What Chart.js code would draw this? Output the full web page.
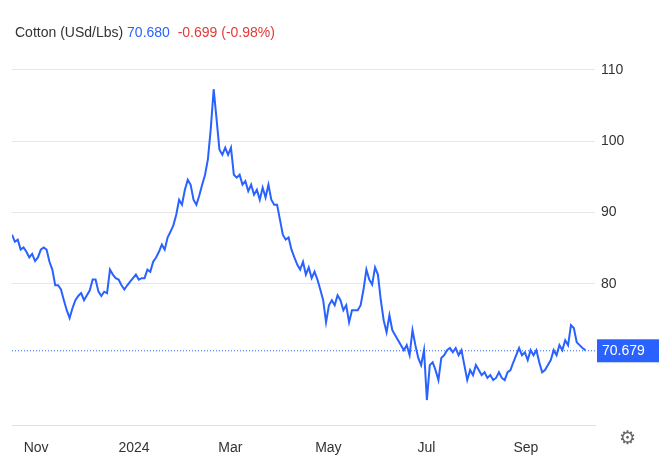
<!DOCTYPE html>
<html><head><meta charset="utf-8">
<script src="https://cdn.jsdelivr.net/npm/chart.js@4"></script>
<style>
body{margin:0;background:#fff;font-family:"Liberation Sans",Arial,sans-serif;}
#t{position:absolute;left:15px;top:24px;font-size:14px;color:#333;}
#wrap{position:absolute;left:0;top:0;width:660px;height:457px;}
#gear{position:absolute;left:619px;top:426px;font-size:19px;color:#666;}
</style></head><body>
<div id="wrap"><canvas id="c" width="660" height="457"></canvas></div>
<div id="t">Cotton (USd/Lbs) <span style="color:#2962ff">70.680</span> <span style="color:#e53935">&nbsp;-0.699 (-0.98%)</span></div>
<div id="gear">⚙</div>
<script>
const startDate = "2023-10-17";
const endDate = "2024-10-08";
const lastPrice = 70.679;
const values = [86.9,85.9,86.2,84.8,85.1,84.5,83.7,84.2,83.2,83.7,84.8,85.1,84.8,83.1,82.0,79.8,79.8,79.2,77.7,76.3,75.2,76.6,77.7,78.3,78.7,77.7,78.4,79.1,80.6,80.6,78.9,78.3,78.9,78.7,82.0,81.3,80.8,80.6,79.8,79.2,79.8,80.3,80.8,81.3,80.6,80.8,80.8,82.0,81.7,83.1,83.7,84.5,85.5,84.8,86.5,87.3,88.2,89.7,91.8,91.1,93.2,94.6,93.9,91.8,91.1,92.4,93.9,95.3,97.5,101.8,107.3,103.1,98.8,98.1,99.1,98.1,99.1,95.3,94.9,95.3,93.9,94.4,93.0,93.9,92.5,93.2,91.8,93.5,92.1,93.9,91.8,91.1,91.1,89.0,86.9,86.2,86.5,84.8,83.7,82.7,82.0,83.1,81.3,82.3,80.8,81.7,80.6,79.2,77.7,74.6,77.0,77.7,77.0,78.4,77.7,76.3,77.0,74.6,76.3,76.3,76.3,77.0,79.2,82.0,80.6,79.9,82.3,81.3,77.7,74.9,73.2,75.6,73.5,72.8,72.1,71.4,70.7,71.4,70.0,73.5,71.4,69.6,68.6,70.7,63.7,68.6,69.0,67.9,66.5,69.6,70.0,70.7,71.0,70.4,71.0,70.0,70.7,68.6,66.5,67.9,67.2,68.6,67.9,67.2,67.6,66.8,67.2,66.5,66.8,67.6,66.8,66.5,67.6,67.9,69.0,70.0,71.0,70.0,70.4,69.3,70.7,70.0,70.7,69.0,67.6,67.9,68.6,69.3,70.7,70.0,71.4,70.7,72.1,71.4,74.2,73.8,71.8,71.4,71.0,70.7];
const tickDates = ["2023-11-01","2024-01-01","2024-03-01","2024-05-01","2024-07-01","2024-09-01"];
const tickLabels = ["Nov","2024","Mar","May","Jul","Sep"];
const yTicks = [80,90,100,110];

const t0 = Date.parse(startDate), t1 = Date.parse(endDate);
const pts = values.map((v,i)=>({x: t0 + (t1-t0)*i/(values.length-1), y: v}));
const tickTs = tickDates.map(d=>Date.parse(d));

const priceTag = {
  id:'priceTag',
  afterDatasetsDraw(ch){
    const {ctx, chartArea:a, scales:{y}} = ch;
    const py = y.getPixelForValue(lastPrice);
    ctx.save();
    ctx.strokeStyle='#2962ff'; ctx.lineWidth=1; ctx.setLineDash([1,2]);
    ctx.beginPath(); ctx.moveTo(a.left,py+0.5); ctx.lineTo(a.right,py+0.5); ctx.stroke();
    ctx.setLineDash([]);
    ctx.fillStyle='#2962ff'; ctx.fillRect(a.right+2,py-11,62,23);
    ctx.fillStyle='#fff'; ctx.font='14px "Liberation Sans", Arial'; ctx.textBaseline='middle';
    ctx.fillText(lastPrice.toFixed(3), a.right+7, py+1);
    ctx.restore();
  }
};

new Chart(document.getElementById('c'),{
  type:'line',
  data:{datasets:[{data:pts,borderColor:'#2962ff',borderWidth:2,pointRadius:0,tension:0,fill:false}]},
  options:{
    responsive:false,animation:false,
    layout:{padding:{left:12,top:50,right:0,bottom:0}},
    plugins:{legend:{display:false},tooltip:{enabled:false}},
    scales:{
      x:{type:'linear',min:t0,max:t1+Date.parse("1970-01-07"),
        afterBuildTicks:s=>{s.ticks=tickTs.map(v=>({value:v}));},
        afterFit:s=>{s.height=32;},
        ticks:{callback:(v)=>tickLabels[tickTs.indexOf(v)],color:'#333',font:{size:14,family:'"Liberation Sans", Arial'},maxRotation:0,autoSkip:false,padding:7},
        grid:{display:false},border:{color:'#e0e0e0'}},
      y:{position:'right',min:60.2,max:112.8,
        afterBuildTicks:s=>{s.ticks=yTicks.map(v=>({value:v}));},
        afterFit:s=>{s.width=65;},
        ticks:{color:'#333',font:{size:14,family:'"Liberation Sans", Arial'},padding:6},
        grid:{color:'#e6e6e6',drawTicks:false},border:{display:false}}
    }
  },
  plugins:[priceTag]
});
</script></body></html>
